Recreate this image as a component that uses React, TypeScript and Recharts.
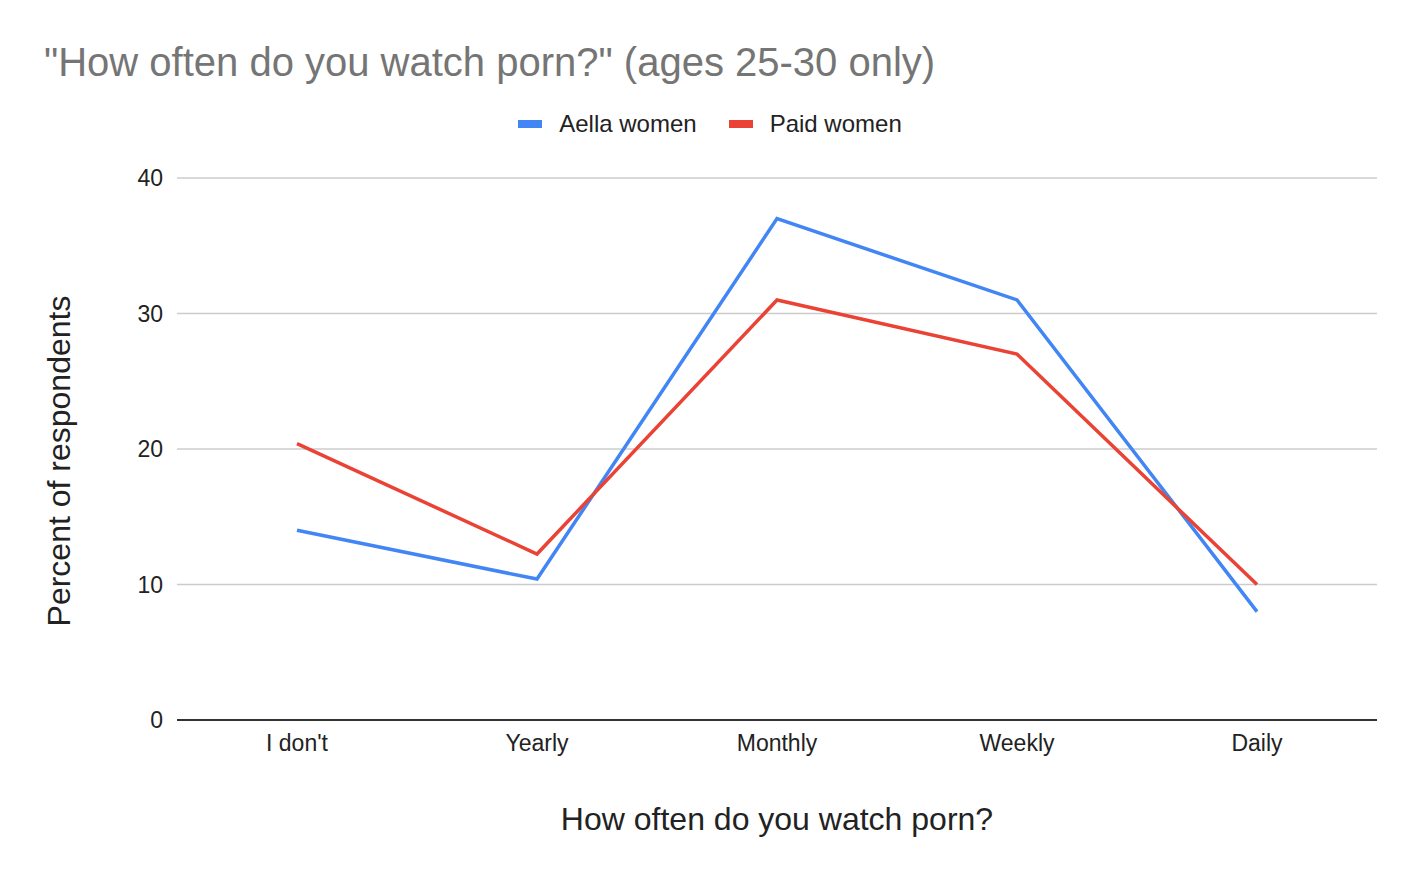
import React from "react";
import {
  LineChart,
  Line,
  XAxis,
  YAxis,
  CartesianGrid,
  Legend,
} from "recharts";

const categories = ["I don't", "Yearly", "Monthly", "Weekly", "Daily"];
const aellaWomen = [14, 10.4, 37, 31, 8];
const paidWomen = [20.4, 12.25, 31, 27, 10];
const yTicks = [0, 10, 20, 30, 40];

const data = categories.map((c, i) => ({
  category: c,
  aella: aellaWomen[i],
  paid: paidWomen[i],
}));

const FONT = '"Liberation Sans", Arial, sans-serif';

const SERIES = [
  { key: "aella", name: "Aella women", color: "#4285F4" },
  { key: "paid", name: "Paid women", color: "#EA4335" },
];

function LegendContent() {
  return (
    <div style={{ display: "flex", justifyContent: "center", fontFamily: FONT, fontSize: 24, color: "#222" }}>
      {SERIES.map((s, i) => (
        <div key={s.key} style={{ display: "flex", alignItems: "center", marginLeft: i ? 32 : 0 }}>
          <span style={{ display: "inline-block", width: 24, height: 8, background: s.color, marginRight: 17 }} />
          <span>{s.name}</span>
        </div>
      ))}
    </div>
  );
}

export default function App() {
  return (
    <div style={{ position: "absolute", left: 0, top: 0, width: 1420, height: 880, background: "#fff", fontFamily: FONT }}>
      <div
        style={{
          position: "absolute",
          left: 44,
          top: 38,
          fontSize: 40,
          color: "#757575",
          lineHeight: "48px",
          whiteSpace: "nowrap",
        }}
      >
        "How often do you watch porn?" (ages 25-30 only)
      </div>
      <LineChart
        width={1420}
        height={880}
        data={data}
        margin={{ top: 178, right: 43, bottom: 0, left: 0 }}
      >
        <CartesianGrid vertical={false} stroke="#cccccc" strokeWidth={1.3} />
        <XAxis
          dataKey="category"
          padding={{ left: 120, right: 120 }}
          tickLine={false}
          axisLine={{ stroke: "#333333", strokeWidth: 2 }}
          tick={{ fontSize: 23, fill: "#222", fontFamily: FONT }}
          tickMargin={9}
          height={160}
          label={(props: any) => {
            const vb = props.viewBox;
            return (
              <text
                x={vb.x + vb.width / 2}
                y={830}
                textAnchor="middle"
                fontSize={32}
                fill="#222"
                fontFamily={FONT}
              >
                How often do you watch porn?
              </text>
            );
          }}
        />
        <YAxis
          domain={[0, 40]}
          ticks={yTicks}
          width={177}
          tickLine={false}
          axisLine={false}
          tick={{ fontSize: 23, fill: "#222", fontFamily: FONT }}
          tickMargin={8}
          label={() => (
            <text
              x={70}
              y={461}
              transform="rotate(-90 70 461)"
              textAnchor="middle"
              fontSize={32}
              fill="#222"
              fontFamily={FONT}
            >
              Percent of respondents
            </text>
          )}
        />
        <Legend
          verticalAlign="middle"
          layout="horizontal"
          content={<LegendContent />}
          wrapperStyle={{ top: 110, left: 0, width: 1420 }}
        />
        {SERIES.map((s) => (
          <Line
            key={s.key}
            type="linear"
            dataKey={s.key}
            name={s.name}
            stroke={s.color}
            strokeWidth={3.5}
            dot={false}
            activeDot={false}
            isAnimationActive={false}
          />
        ))}
      </LineChart>
    </div>
  );
}
